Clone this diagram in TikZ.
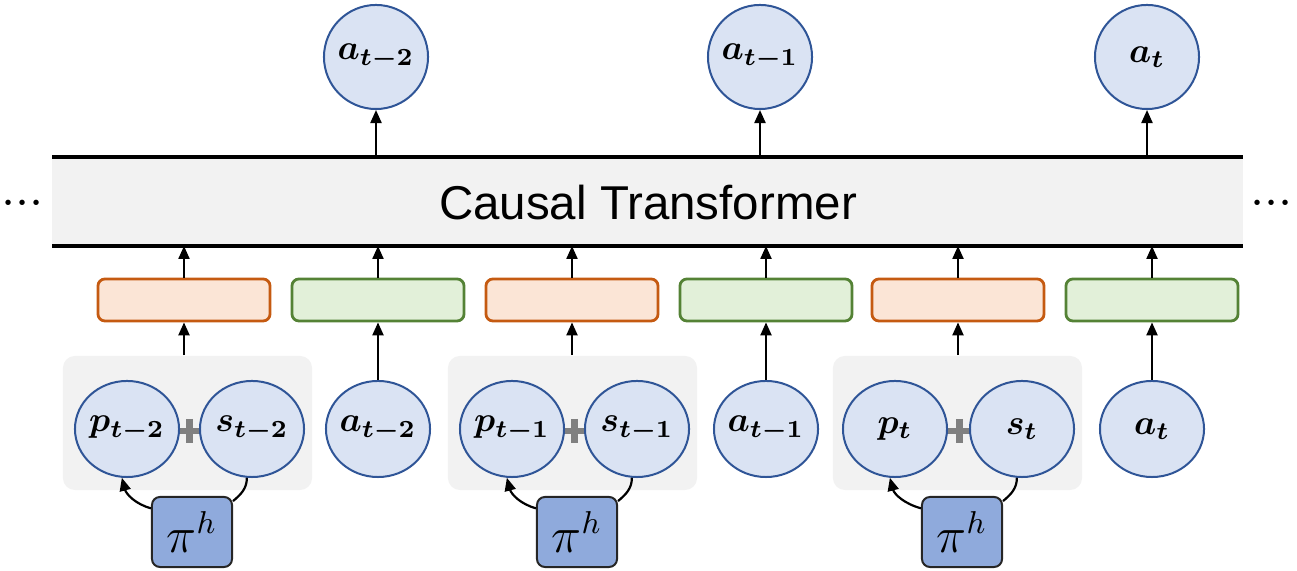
\documentclass[tikz,border=0pt]{standalone}
\usepackage{amsmath}
\usepackage{bm}
\usepackage{fontspec}
\newfontfamily\arialfont{Liberation Sans}
\usetikzlibrary{arrows.meta,shapes.geometric}
\definecolor{cfill}{HTML}{DAE3F3}
\definecolor{cdraw}{HTML}{2F5597}
\definecolor{ofill}{HTML}{FBE5D6}
\definecolor{odraw}{HTML}{C55A11}
\definecolor{gfill}{HTML}{E2F0D9}
\definecolor{gdraw}{HTML}{548235}
\definecolor{pifill}{HTML}{8FAADC}
\definecolor{pidraw}{HTML}{262626}
\definecolor{bgray}{HTML}{F2F2F2}
\definecolor{plusgray}{HTML}{808080}
\tikzset{
  topc/.style={circle, fill=cfill, draw=cdraw, line width=0.02cm, minimum size=1.04cm, inner sep=0pt, font=\fontsize{10}{12}\selectfont},
  botc/.style={ellipse, fill=cfill, draw=cdraw, line width=0.02cm, minimum width=1.04cm, minimum height=0.96cm, inner sep=-0.06cm, font=\fontsize{10}{12}\selectfont},
  embbox/.style={rectangle, rounded corners=0.07cm, line width=0.028cm, minimum width=1.72cm, minimum height=0.42cm, inner sep=0pt},
  obox/.style={embbox, fill=ofill, draw=odraw},
  gbox/.style={embbox, fill=gfill, draw=gdraw},
  pibox/.style={rectangle, rounded corners=0.08cm, fill=pifill, draw=pidraw, line width=0.02cm, minimum width=0.8cm, minimum height=0.7cm, inner sep=0pt, font=\fontsize{13.5}{16}\selectfont},
  grp/.style={rectangle, rounded corners=0.12cm, fill=bgray, minimum width=2.49cm, minimum height=1.34cm, inner sep=0pt},
  arr/.style={-{Triangle[length=0.13cm,width=0.11cm]}, line width=0.022cm, black},
  curv/.style={line width=0.022cm, black},
  plusl/.style={line width=0.065cm, plusgray},
  band/.style={line width=0.04cm, black},
  dotsn/.style={inner sep=0pt, font=\fontsize{15}{18}\selectfont}
}
\begin{document}
\begin{tikzpicture}[x=0.01cm, y=-0.01cm]
\useasboundingbox (0,0) rectangle (1297,571);
% transformer band
\fill[bgray] (52,157) rectangle (1243,246);
\coordinate (bandTL) at (52,157);
\coordinate (bandTR) at (1243,157);
\coordinate (bandBL) at (52,246);
\coordinate (bandBR) at (1243,246);
\draw[band] (bandTL) -- (bandTR);
\draw[band] (bandBL) -- (bandBR);
\node[font=\arialfont\fontsize{13.5}{16}\selectfont] (ct) at (648,203) {Causal Transformer};
\node[dotsn] (dl) at (23,204) {$\mathord{\cdotp}\mathord{\cdotp}\mathord{\cdotp}$};
\node[dotsn] (dr) at (1272,204) {$\mathord{\cdotp}\mathord{\cdotp}\mathord{\cdotp}$};

% top action circles
\node[topc] (o1) at (376,57) {$\bm{a}_{\bm{t-2}}$};
\node[topc] (o2) at (760,57) {$\bm{a}_{\bm{t-1}}$};
\node[topc] (o3) at (1147,57) {$\bm{a}_{\bm{t}}$};
\coordinate (u1) at (376,157);
\coordinate (u2) at (760,157);
\coordinate (u3) at (1147,157);
\draw[arr] (u1) -- (o1);
\draw[arr] (u2) -- (o2);
\draw[arr] (u3) -- (o3);

% embedding boxes
\node[obox] (e1) at (184,300) {};
\node[gbox] (f1) at (378,300) {};
\node[obox] (e2) at (572,300) {};
\node[gbox] (f2) at (766,300) {};
\node[obox] (e3) at (958,300) {};
\node[gbox] (f3) at (1152,300) {};
\foreach \n/\xx in {e1/184,f1/378,e2/572,f2/766,e3/958,f3/1152}{
  \coordinate (b\n) at (\xx,246);
  \draw[arr] (\n) -- (b\n);
}

% groups
\foreach \i/\dx in {1/0,2/385,3/770}{
  \node[grp] (g\i) at (187.5+\dx,423) {};
  \draw[plusl] (176+\dx,431) -- (203+\dx,431);
  \draw[plusl] (189.5+\dx,419) -- (189.5+\dx,443);
}
\draw[arr] (e1 |- g1.north) -- (e1.south);
\draw[arr] (e2 |- g2.north) -- (e2.south);
\draw[arr] (e3 |- g3.north) -- (e3.south);

\node[botc] (p1) at (127,429) {$\bm{p}_{\bm{t-2}}$};
\node[botc] (s1) at (252,429) {$\bm{s}_{\bm{t-2}}$};
\node[botc] (a1) at (378,429) {$\bm{a}_{\bm{t-2}}$};
\node[botc] (p2) at (512,429) {$\bm{p}_{\bm{t-1}}$};
\node[botc] (s2) at (637,429) {$\bm{s}_{\bm{t-1}}$};
\node[botc] (a2) at (766,429) {$\bm{a}_{\bm{t-1}}$};
\node[botc] (p3) at (895,429) {$\bm{p}_{\bm{t}}$};
\node[botc] (s3) at (1022,429) {$\bm{s}_{\bm{t}}$};
\node[botc] (a3) at (1152,429) {$\bm{a}_{\bm{t}}$};
\draw[arr] (a1) -- (f1);
\draw[arr] (a2) -- (f2);
\draw[arr] (a3) -- (f3);

\node[pibox] (pi1) at (192,532) {$\pi^{h}$};
\node[pibox] (pi2) at (577,532) {$\pi^{h}$};
\node[pibox] (pi3) at (962,532) {$\pi^{h}$};
\foreach \i in {1,2,3}{
  \draw[arr] (pi\i.150) to[out=165, in=-75] (p\i.-96);
  \draw[curv] (s\i.-96) to[out=-90, in=40] (pi\i.37);
}
\end{tikzpicture}
\end{document}
